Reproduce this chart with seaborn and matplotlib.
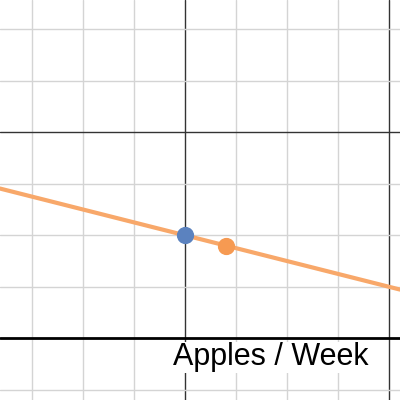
import numpy as np
import matplotlib.pyplot as plt
import seaborn as sns

# line y = intercept + slope * x, and the two marked points
intercept = 2.0
slope = -0.25
blue_pt = (0.0, 2.0)
orange_pt = (0.8, 1.8)

sns.set_style("white")
fig, ax = plt.subplots(figsize=(4, 4), dpi=100)
fig.subplots_adjust(0, 0, 1, 1)

x0, x1 = -3.63, 4.22
y0, y1 = -1.2, 6.57
ax.set_xlim(x0, x1)
ax.set_ylim(y0, y1)

for v in np.arange(-3, 5):
    ax.axvline(v, color="#333333" if v % 4 == 0 else "#d4d4d4", lw=1, zorder=0)
for v in np.arange(-1, 7):
    if v == 0:
        ax.axhline(v, color="black", lw=2, zorder=1)
    else:
        ax.axhline(v, color="#333333" if v % 4 == 0 else "#d4d4d4", lw=1, zorder=0)

xs = np.array([x0, x1])
sns.lineplot(x=xs, y=intercept + slope * xs, color="#f8a86a", lw=3, ax=ax, zorder=2)
ax.scatter(*blue_pt, s=130, color="#5b82bf", zorder=3)
ax.scatter(*orange_pt, s=130, color="#f69a52", zorder=3)

ax.text(3.6, -0.08, "Apples / Week", fontsize=22, ha="right", va="top",
        color="black", family="Liberation Sans", zorder=4,
        bbox=dict(facecolor="white", edgecolor="none", pad=0.5))
ax.set_xticks([])
ax.set_yticks([])
for s in ax.spines.values():
    s.set_visible(False)
fig.savefig("out.png", dpi=100)
